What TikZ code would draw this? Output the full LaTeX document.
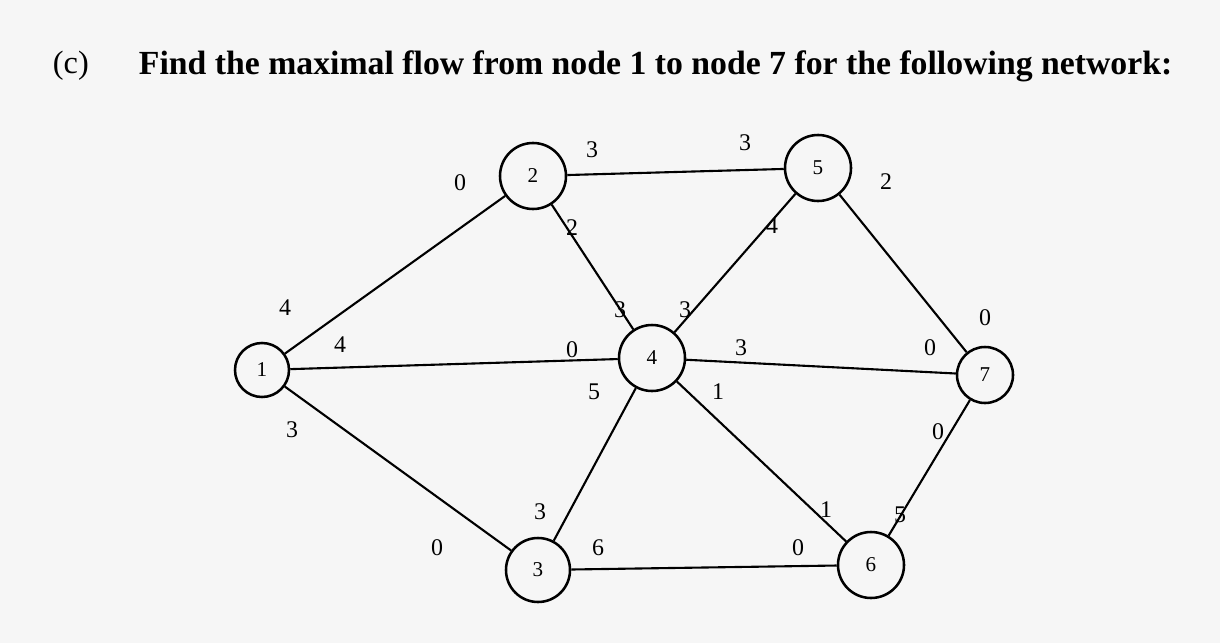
\documentclass[tikz,border=0pt]{standalone}
\usepackage{fontspec}
\setmainfont{Liberation Serif}
\usetikzlibrary{positioning}
\tikzset{
  vtx/.style={draw,circle,line width=1.8pt,minimum size=1.65cm,inner sep=0pt,font=\fontsize{15}{17}\selectfont},
  capnum/.style={inner sep=1pt,font=\fontsize{17}{19}\selectfont},
  arc/.style={line width=1.5pt}
}
\begin{document}
\begin{tikzpicture}[x=0.025cm,y=-0.025cm]
  \fill[gray!7] (0,0) rectangle (1220,643);
  \useasboundingbox (0,0) rectangle (1220,643);
  \node[anchor=west,font=\fontsize{23}{27}\selectfont] (part) at (48,66) {(c)};
  \node[anchor=west,font=\fontsize{24}{28}\selectfont\bfseries] (title) at (134,66) {Find the maximal flow from node 1 to node 7 for the following network:};
  % vertices
  \node[vtx,minimum size=1.35cm] (n1) at (262,370) {1};
  \node[vtx] (n2) at (533,176) {2};
  \node[vtx,minimum size=1.6cm] (n3) at (538,570) {3};
  \node[vtx] (n4) at (652,358) {4};
  \node[vtx] (n5) at (818,168) {5};
  \node[vtx] (n6) at (871,565) {6};
  \node[vtx,minimum size=1.4cm] (n7) at (985,375) {7};
  % edges
  \foreach \a/\b in {n1/n2,n1/n4,n1/n3,n2/n5,n2/n4,n5/n4,n5/n7,n4/n7,n4/n3,n4/n6,n3/n6,n6/n7}
    \draw[arc] (\a) -- (\b);
  % capacities
  \node[capnum] (c12) at (285,308) {4};
  \node[capnum] (c21) at (460,183) {0};
  \node[capnum] (c25) at (592,150) {3};
  \node[capnum] (c52) at (745,143) {3};
  \node[capnum] (c57) at (886,182) {2};
  \node[capnum] (c75) at (985,318) {0};
  \node[capnum] (c24) at (572,228) {2};
  \node[capnum] (c42) at (620,310) {3};
  \node[capnum] (c54) at (772,226) {4};
  \node[capnum] (c45) at (685,310) {3};
  \node[capnum] (c14) at (340,345) {4};
  \node[capnum] (c41) at (572,350) {0};
  \node[capnum] (c43) at (594,392) {5};
  \node[capnum] (c34) at (540,512) {3};
  \node[capnum] (c36) at (598,548) {6};
  \node[capnum] (c63) at (798,548) {0};
  \node[capnum] (c13) at (292,430) {3};
  \node[capnum] (c31) at (437,548) {0};
  \node[capnum] (c47) at (741,348) {3};
  \node[capnum] (c74) at (930,348) {0};
  \node[capnum] (c46) at (718,392) {1};
  \node[capnum] (c64) at (826,510) {1};
  \node[capnum] (c67) at (900,515) {5};
  \node[capnum] (c76) at (938,432) {0};
\end{tikzpicture}
\end{document}
